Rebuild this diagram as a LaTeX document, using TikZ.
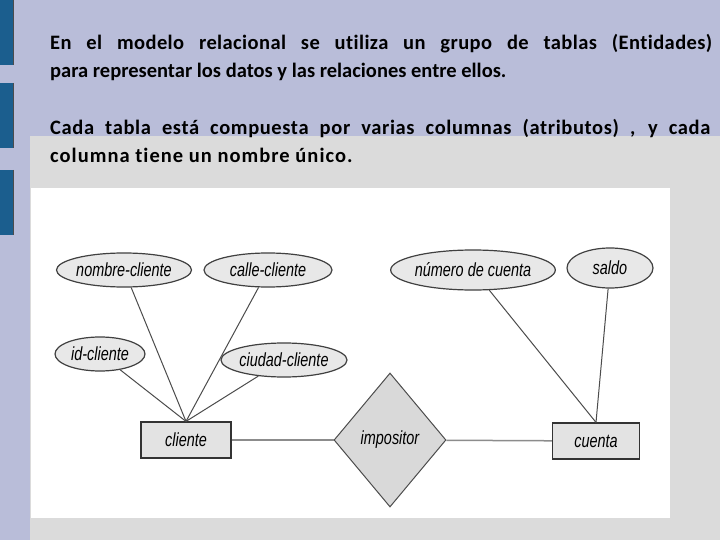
\documentclass[tikz,border=0pt]{standalone}
\usepackage{fontspec}
\setmainfont[Ligatures=NoCommon]{Carlito}
\newfontfamily\erfont[FakeStretch=0.76]{Liberation Sans}
\usetikzlibrary{shapes.geometric}
\definecolor{lav}{HTML}{B9BDD9}
\definecolor{bar}{HTML}{1B5E8E}
\tikzset{x=1pt,y=-1pt,
 attr/.style={ellipse,draw=black!75,line width=1.2pt,fill=black!9,inner sep=0pt,font=\erfont\itshape\fontsize{19}{19}\selectfont},
 ent/.style={rectangle,draw=black!80,line width=1.2pt,fill=black!11,minimum width=90pt,minimum height=36pt,font=\erfont\itshape\fontsize{19}{19}\selectfont},
 rel/.style={diamond,draw=black!70,line width=1pt,fill=black!15,minimum width=112pt,minimum height=134pt,inner sep=0pt,font=\erfont\itshape\fontsize{19}{19}\selectfont},
 conn/.style={draw=black!70,line width=1pt},
 txt/.style={anchor=base west,inner sep=0pt,font=\bfseries\fontsize{20.5}{20}\selectfont}}
\begin{document}
\begin{tikzpicture}
\fill[lav] (0,0) rectangle (720,540);
\useasboundingbox (0,0) rectangle (720,540);
\foreach \a/\b in {0/65,83/148,170/235}{\fill[bar] (0,\a) rectangle (13,\b); \draw[black!70,line width=0.8pt] (13,\a) -- (13,\b);}
\fill[black!14] (30,136) rectangle (720,540);
\fill[white] (31,188) rectangle (670,518);
\node[txt] (l1) at (50,50) {\addfontfeature{LetterSpace=2}\makebox[662pt][s]{En el modelo relacional se utiliza un grupo de tablas (Entidades)}};
\node[txt] (l2) at (50,78) {para representar los datos y las relaciones entre ellos.};
\node[txt] (l3) at (50,135) {\addfontfeature{LetterSpace=3}\makebox[660pt][s]{Cada tabla está compuesta por varias columnas (atributos) , y cada}};
\node[txt] (l4) at (50,163) {\addfontfeature{LetterSpace=5}columna tiene un nombre único.};
\node[attr,minimum width=126pt,minimum height=34pt] (nc) at (124,270) {nombre-cliente};
\node[attr,minimum width=128pt,minimum height=34pt] (cc) at (268,270) {calle-cliente};
\node[attr,minimum width=90pt,minimum height=34pt] (ic) at (100,354) {id-cliente};
\node[attr,minimum width=106pt,minimum height=34pt] (ci) at (284,360) {ciudad-cliente};
\node[attr,minimum width=152pt,minimum height=40pt] (nu) at (473,270) {número de cuenta};
\node[attr,minimum width=86pt,minimum height=40pt] (sa) at (610,268) {saldo};
\node[ent] (cl) at (186,440) {cliente};
\node[ent,minimum width=87pt] (cu) at (596,441) {cuenta};
\node[rel] (im) at (390,440) {impositor};
\draw[conn] (nc) -- (cl.north);
\draw[conn] (cc) -- (cl.north);
\draw[conn] (ic) -- (cl.north);
\draw[conn] (ci) -- (cl.north);
\draw[conn] (nu) -- (cu.north);
\draw[conn] (sa) -- (cu.north);
\draw[conn,black!45,line width=1.5pt] (cl) -- (im);
\draw[conn,black!45,line width=1.5pt] (im) -- (cu);
\end{tikzpicture}
\end{document}
